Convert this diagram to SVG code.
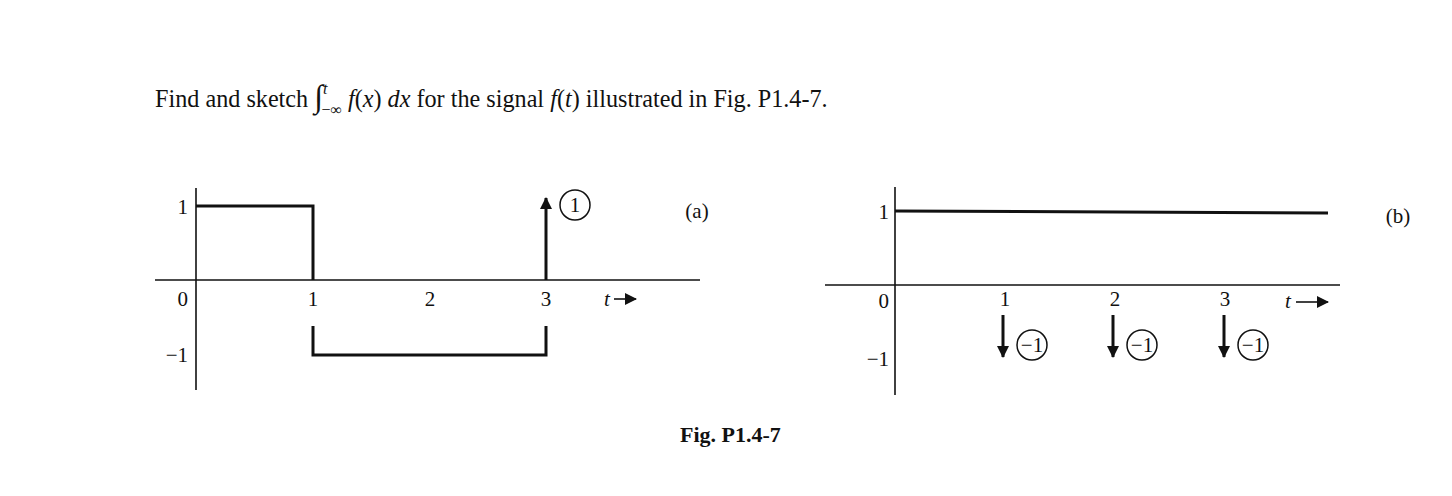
<svg xmlns="http://www.w3.org/2000/svg" width="1452" height="496" viewBox="0 0 1452 496">
<style>
text{font-family:"Liberation Serif","DejaVu Serif",serif;fill:#111}
.t{font-size:24.2px}.l{font-size:21px}
.ax{stroke:#111;stroke-width:1.6;fill:none}
.sg{stroke:#111;stroke-width:3;fill:none}
.c{stroke:#111;stroke-width:1.5;fill:none}
</style>
<defs><marker id="ah" markerWidth="12" markerHeight="12" refX="11" refY="6" orient="auto" markerUnits="userSpaceOnUse"><path d="M0,0 L12,6 L0,12 Z" fill="#111"/></marker></defs>
<rect width="1452" height="496" fill="#fff"/>
<text class="t" x="155" y="107">Find and sketch <tspan font-size="32">∫</tspan><tspan font-size="16" dy="-13" font-style="italic">t</tspan><tspan font-size="16" dx="-6" dy="21">−∞</tspan><tspan dy="-8" font-style="italic"> f</tspan>(<tspan font-style="italic">x</tspan>) <tspan font-style="italic">dx</tspan> for the signal <tspan font-style="italic">f</tspan>(<tspan font-style="italic">t</tspan>) illustrated in Fig. P1.4-7.</text>
<g id="plot-a">
<line class="ax" x1="196" y1="188" x2="196" y2="390"/>
<line class="ax" x1="155" y1="280" x2="700" y2="280"/>
<polyline class="sg" points="196,206 313,206 313,280"/>
<polyline class="sg" points="313,326 313,355 546,355 546,326"/>
<line class="sg" x1="546" y1="280" x2="546" y2="198" marker-end="url(#ah)"/>
<circle class="c" cx="575" cy="205" r="15"/><text class="l" x="575" y="212" text-anchor="middle">1</text>
<text class="l" x="188" y="214" text-anchor="end">1</text>
<text class="l" x="188" y="306" text-anchor="end">0</text>
<text class="l" x="188" y="362" text-anchor="end">−1</text>
<text class="l" x="313" y="306" text-anchor="middle">1</text>
<text class="l" x="430" y="306" text-anchor="middle">2</text>
<text class="l" x="546" y="306" text-anchor="middle">3</text>
<text class="l" x="604" y="306" font-style="italic">t</text>
<line class="ax" x1="614" y1="299" x2="636" y2="299" marker-end="url(#ah)"/>
<text class="l" x="697" y="218" text-anchor="middle">(a)</text>
</g>
<g id="plot-b">
<line class="ax" x1="895" y1="187" x2="895" y2="395"/>
<line class="ax" x1="825" y1="285" x2="1340" y2="285"/>
<line class="sg" x1="895" y1="211" x2="1328" y2="213"/>
<text class="l" x="889" y="219" text-anchor="end">1</text>
<text class="l" x="889" y="308" text-anchor="end">0</text>
<text class="l" x="889" y="366" text-anchor="end">−1</text>
<text class="l" x="1005" y="306" text-anchor="middle">1</text>
<text class="l" x="1115" y="306" text-anchor="middle">2</text>
<text class="l" x="1225" y="306" text-anchor="middle">3</text>
<text class="l" x="1285" y="308" font-style="italic">t</text>
<line class="ax" x1="1296" y1="302" x2="1328" y2="302" marker-end="url(#ah)"/>
<text class="l" x="1398" y="223" text-anchor="middle">(b)</text>
<g><line class="sg" x1="1003" y1="315" x2="1003" y2="357" marker-end="url(#ah)"/><circle class="c" cx="1032" cy="345" r="15"/><text class="l" x="1032" y="352" text-anchor="middle">−1</text></g>
<g><line class="sg" x1="1113" y1="315" x2="1113" y2="357" marker-end="url(#ah)"/><circle class="c" cx="1142" cy="345" r="15"/><text class="l" x="1142" y="352" text-anchor="middle">−1</text></g>
<g><line class="sg" x1="1224" y1="315" x2="1224" y2="357" marker-end="url(#ah)"/><circle class="c" cx="1253" cy="345" r="15"/><text class="l" x="1253" y="352" text-anchor="middle">−1</text></g>
</g>
<text x="680" y="442" font-size="22" font-weight="bold" style="font-family:'Liberation Serif',serif">Fig. P1.4-7</text>
</svg>
